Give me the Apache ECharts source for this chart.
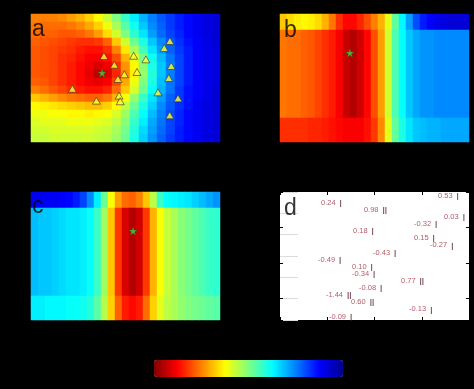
<!DOCTYPE html>
<html><head><meta charset="utf-8">
<script src="https://cdn.jsdelivr.net/npm/echarts@6/dist/echarts.min.js"></script>
<style>html,body{margin:0;padding:0;background:#000;}#c{width:474px;height:389px;}</style>
</head><body><div id="c"></div>
<script>
// Panel a: smooth field (16 rows top->bottom, 21 columns), 0 = dark blue, 1 = dark red
const fieldA = [
  [0.75,0.75,0.75,0.74,0.72,0.70,0.67,0.63,0.57,0.50,0.43,0.36,0.30,0.25,0.21,0.18,0.15,0.13,0.11,0.09,0.08],
  [0.76,0.77,0.77,0.77,0.76,0.74,0.71,0.67,0.61,0.54,0.46,0.39,0.32,0.26,0.22,0.18,0.15,0.13,0.11,0.09,0.08],
  [0.77,0.78,0.78,0.79,0.79,0.78,0.76,0.72,0.66,0.58,0.50,0.42,0.35,0.28,0.23,0.19,0.16,0.13,0.11,0.09,0.08],
  [0.78,0.79,0.80,0.81,0.82,0.83,0.83,0.82,0.78,0.68,0.58,0.48,0.40,0.32,0.26,0.21,0.17,0.14,0.12,0.10,0.08],
  [0.79,0.80,0.81,0.82,0.83,0.85,0.86,0.86,0.83,0.75,0.65,0.54,0.44,0.35,0.28,0.22,0.18,0.15,0.12,0.10,0.09],
  [0.79,0.80,0.81,0.83,0.84,0.86,0.88,0.88,0.86,0.80,0.70,0.60,0.49,0.39,0.31,0.24,0.19,0.15,0.12,0.10,0.09],
  [0.79,0.80,0.81,0.83,0.85,0.87,0.89,0.91,0.89,0.83,0.73,0.63,0.51,0.40,0.32,0.25,0.19,0.15,0.12,0.10,0.09],
  [0.79,0.80,0.81,0.83,0.85,0.87,0.90,0.94,0.91,0.84,0.74,0.64,0.52,0.41,0.32,0.25,0.19,0.15,0.12,0.10,0.09],
  [0.78,0.79,0.81,0.83,0.85,0.87,0.89,0.90,0.88,0.81,0.71,0.61,0.50,0.40,0.31,0.24,0.19,0.15,0.12,0.10,0.09],
  [0.75,0.77,0.79,0.81,0.83,0.85,0.86,0.86,0.84,0.77,0.68,0.59,0.48,0.38,0.30,0.24,0.18,0.14,0.12,0.10,0.08],
  [0.68,0.70,0.72,0.74,0.76,0.77,0.78,0.78,0.76,0.70,0.62,0.52,0.43,0.35,0.28,0.22,0.18,0.14,0.12,0.10,0.08],
  [0.63,0.64,0.65,0.66,0.67,0.68,0.69,0.69,0.67,0.63,0.56,0.48,0.40,0.33,0.26,0.21,0.17,0.14,0.11,0.09,0.08],
  [0.61,0.61,0.62,0.62,0.63,0.63,0.64,0.63,0.62,0.59,0.53,0.45,0.38,0.31,0.25,0.20,0.16,0.13,0.11,0.09,0.08],
  [0.59,0.60,0.60,0.60,0.61,0.61,0.61,0.60,0.59,0.56,0.51,0.43,0.36,0.29,0.24,0.19,0.16,0.13,0.11,0.09,0.08],
  [0.58,0.58,0.59,0.59,0.59,0.59,0.59,0.58,0.57,0.54,0.49,0.41,0.34,0.28,0.23,0.19,0.15,0.13,0.11,0.09,0.08],
  [0.57,0.57,0.58,0.58,0.58,0.58,0.58,0.57,0.56,0.53,0.48,0.40,0.33,0.27,0.22,0.18,0.15,0.13,0.11,0.09,0.08]
];
// Panel b: column profiles (27 columns) for the top / middle / bottom bands, and band of each of 16 rows
const bTop = [0.68,0.66,0.64,0.63,0.64,0.66,0.70,0.76,0.83,0.87,0.87,0.84,0.80,0.75,0.70,0.60,0.47,0.37,0.28,0.20,0.15,0.12,0.10,0.09,0.08,0.08,0.08];
const bMid = [0.76,0.77,0.77,0.78,0.79,0.81,0.83,0.85,0.88,0.93,0.95,0.92,0.87,0.80,0.72,0.58,0.45,0.38,0.32,0.29,0.27,0.27,0.26,0.26,0.26,0.26,0.26];
const bBot = [0.83,0.83,0.83,0.83,0.84,0.84,0.85,0.86,0.87,0.88,0.88,0.88,0.86,0.82,0.74,0.60,0.47,0.40,0.35,0.32,0.31,0.30,0.30,0.29,0.29,0.29,0.29];
const bBands = [0,0,1,1,1,1,1,1,1,1,1,1,1,2,2,2];
// Panel c
const cTop = [0.11,0.11,0.11,0.11,0.12,0.13,0.15,0.19,0.26,0.36,0.48,0.62,0.72,0.77,0.78,0.75,0.68,0.56,0.43,0.38,0.37,0.36,0.35,0.33,0.31,0.29,0.27];
const cMid = [0.31,0.32,0.32,0.33,0.34,0.35,0.35,0.36,0.38,0.43,0.53,0.68,0.82,0.91,0.95,0.92,0.82,0.70,0.62,0.57,0.54,0.51,0.49,0.47,0.45,0.43,0.42];
const cBot = [0.36,0.36,0.37,0.37,0.37,0.38,0.38,0.39,0.41,0.46,0.55,0.67,0.78,0.85,0.87,0.85,0.77,0.67,0.60,0.56,0.54,0.52,0.50,0.49,0.48,0.47,0.46];
const cBands = [0,0,1,1,1,1,1,1,1,1,1,1,1,2,2,2];
// Panel a markers (percent of plot width, percent of plot height from top)
const triX = [73.5,70.5,38.6,54.3,60.8,44.1,74.2,49.4,56.1,46.0,72.9,67.2,21.9,34.6,46.6,47.2,77.8,73.4];
const triY = [21.1,26.6,32.8,32.6,35.4,39.6,40.6,47.1,45.3,50.8,50.0,61.2,58.4,67.7,63.8,68.2,65.9,79.1];
const starA = [37.6,46.1];
const starB = [37.0,30.5];
const starC = [54.0,30.5];
// Panel d text entries (one per row, top to bottom)
const dValues = ['0.53','0.24','0.98','0.03','-0.32','0.18','0.15','-0.27','-0.43','-0.49','0.10','-0.34','0.77','-0.08','-1.44','0.60','-0.13','-0.09'];
const dBars   = ['|','|','||','|','|','|','|','|','|','|','|','|','||','|','||','||','|','|'];
const dX      = [83.6,21.7,44.4,86.8,70.9,38.6,70.9,79.4,49.2,20.1,38.1,38.1,64.0,41.8,24.3,37.6,68.3,25.9];
const panelLabels = ['a','b','c','d'];

const jet = ['#00008f','#0000ff','#0080ff','#00ffff','#80ff80','#ffff00','#ff8000','#ff0000','#800000'];
function idx(n){return Array.from({length:n},(_,i)=>String(i));}
const dataA=[]; fieldA.forEach((row,j)=>row.forEach((v,i)=>dataA.push([i,j,v])));
function bandData(top,mid,bot,bands){const prof=[top,mid,bot];const out=[];bands.forEach((b,j)=>prof[b].forEach((v,i)=>out.push([i,j,v])));return out;}
const dataB=bandData(bTop,bMid,bBot,bBands);
const dataC=bandData(cTop,cMid,cBot,cBands);

const G=[{left:31,top:14},{left:280,top:14},{left:31,top:192},{left:280,top:192}];
const grid=[];
G.forEach((g,i)=>grid.push({left:g.left,top:g.top,width:189,height:128,show:i===3,backgroundColor:'#fff',borderWidth:0}));
G.forEach(g=>grid.push({left:g.left,top:g.top,width:189,height:128}));

const hidCat=(gi,n,inv)=>({type:'category',gridIndex:gi,data:idx(n),show:false,inverse:!!inv});
const hidVal=(gi,inv)=>({type:'value',gridIndex:gi,min:0,max:100,show:false,inverse:!!inv});
const tick={show:true,inside:true,length:3,lineStyle:{color:'#000',width:1}};
const xAxis=[
  hidCat(0,fieldA[0].length), hidCat(1,bMid.length), hidCat(2,cMid.length),
  {type:'value',gridIndex:3,min:0,max:100,interval:25,position:'bottom',axisLine:{show:false},axisLabel:{show:false},splitLine:{show:false},axisTick:tick},
  hidVal(4), hidVal(5), hidVal(6),
  {type:'value',gridIndex:7,min:0,max:100,interval:25,position:'top',axisLine:{show:false},axisLabel:{show:false},splitLine:{show:false},axisTick:tick}
];
const yAxis=[
  hidCat(0,fieldA.length,true), hidCat(1,bBands.length,true), hidCat(2,cBands.length,true),
  {type:'category',gridIndex:3,data:idx(dValues.length),inverse:true,axisLine:{show:false},axisLabel:{show:false},
   axisTick:{show:true,inside:true,length:18,lineStyle:{color:'#dcdcdc',width:1}}},
  hidVal(4,true), hidVal(5,true), hidVal(6,true),
  {type:'value',gridIndex:7,min:0,max:36,interval:10,inverse:true,position:'left',axisLine:{show:false},axisLabel:{show:false},splitLine:{show:false},axisTick:tick},
  {type:'value',gridIndex:7,min:0,max:36,interval:10,inverse:true,position:'right',axisLine:{show:false},axisLabel:{show:false},splitLine:{show:false},axisTick:tick}
];
const starPath='path://M50 0 L61.8 35.1 L98.9 35.1 L69 57.3 L80.3 92.7 L50 71 L19.7 92.7 L31 57.3 L1.1 35.1 L38.2 35.1 Z';
const starSeries=(gi,p)=>({type:'scatter',xAxisIndex:gi,yAxisIndex:gi,data:[p],symbol:starPath,symbolSize:8,
  itemStyle:{color:'#3fdc3f',borderColor:'#1d6e1d',borderWidth:0.5},z:6});
const series=[
  {type:'heatmap',xAxisIndex:0,yAxisIndex:0,data:dataA,itemStyle:{borderWidth:0},emphasis:{disabled:true}},
  {type:'heatmap',xAxisIndex:1,yAxisIndex:1,data:dataB,itemStyle:{borderWidth:0},emphasis:{disabled:true}},
  {type:'heatmap',xAxisIndex:2,yAxisIndex:2,data:dataC,itemStyle:{borderWidth:0},emphasis:{disabled:true}},
  {type:'scatter',xAxisIndex:4,yAxisIndex:4,data:triX.map((x,i)=>[x,triY[i]]),symbol:'triangle',symbolSize:[8,7],
   itemStyle:{color:'#ffff33',borderColor:'#333',borderWidth:0.8},z:5},
  starSeries(4,starA), starSeries(5,starB), starSeries(6,starC),
  {type:'scatter',xAxisIndex:3,yAxisIndex:3,symbolSize:0,
   data:dValues.map((v,i)=>[dX[i],i,v,dBars[i]]),
   label:{show:true,position:'right',distance:0,
     formatter:p=>'{v|'+p.data[2]+'}{b|'+p.data[3]+'}',
     rich:{v:{fontSize:7.5,fontFamily:'Liberation Sans',color:'#9e2f42'},
           b:{fontSize:8,fontFamily:'Liberation Sans',color:'#552230',fontWeight:'bold',padding:[0,0,0,4]}}}}
];
const labelPos=[[32,18],[284,19],[32,195],[284,197]];
const graphic=panelLabels.map((t,i)=>({type:'text',left:labelPos[i][0],top:labelPos[i][1],z:100,
  style:{text:t,fontSize:23,fontFamily:'Liberation Sans',fill:'rgba(0,0,0,0.8)'}}));
const chart=echarts.init(document.getElementById('c'),null,{renderer:'canvas'});
chart.setOption({
  backgroundColor:'#000',animation:false,
  grid,xAxis,yAxis,series,graphic,
  visualMap:{type:'continuous',min:0,max:1,seriesIndex:[0,1,2],orient:'horizontal',inverse:true,
    left:154,top:360,itemWidth:17,itemHeight:189,padding:0,calculable:false,showLabel:false,
    inRange:{color:jet}}
});
</script></body></html>
